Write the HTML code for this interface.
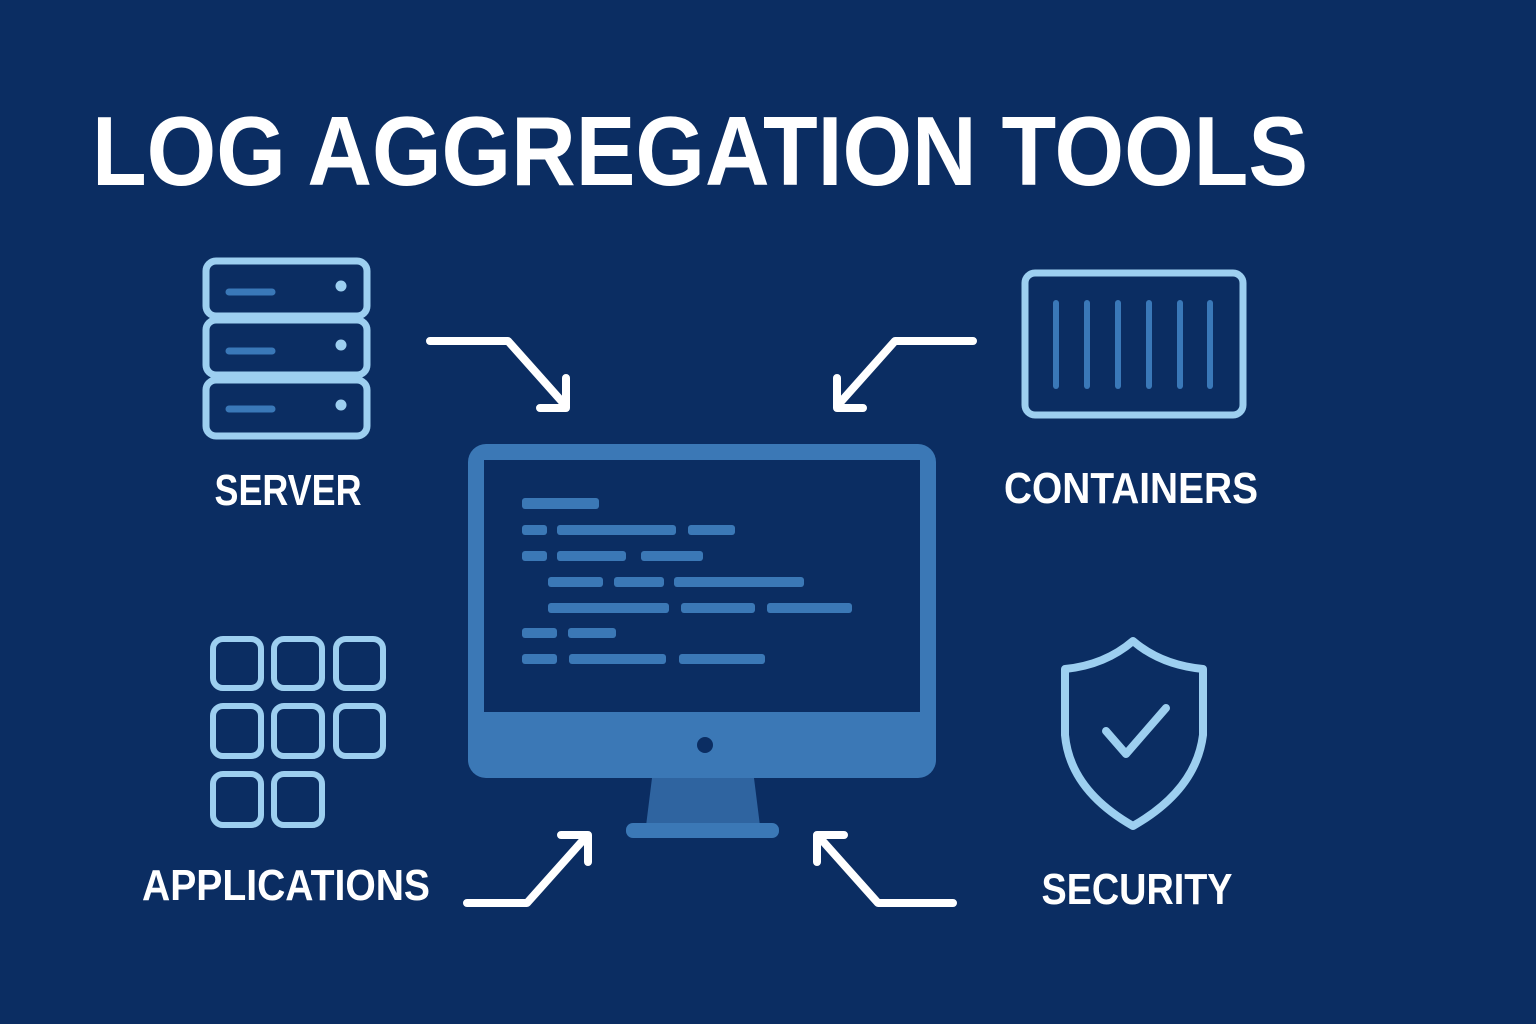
<!DOCTYPE html>
<html><head><meta charset="utf-8"><style>
html,body{margin:0;padding:0;background:#0b2d62;}
svg{display:block;}
text{font-family:"Liberation Sans",sans-serif;font-weight:bold;fill:#fff;}
</style></head><body>
<svg width="1536" height="1024" viewBox="0 0 1536 1024" xmlns="http://www.w3.org/2000/svg">
<rect width="1536" height="1024" fill="#0b2d62"/>
<text x="92" y="185" font-size="98" textLength="1216" lengthAdjust="spacingAndGlyphs">LOG AGGREGATION TOOLS</text>

<!-- server -->
<g fill="none" stroke="#9dcff0" stroke-width="7">
<rect x="206" y="261" width="161" height="55" rx="10"/>
<rect x="206" y="320" width="161" height="55" rx="10"/>
<rect x="206" y="380" width="161" height="56" rx="10"/>
</g>
<g stroke="#3a78b8" stroke-width="7" stroke-linecap="round">
<line x1="229" y1="292" x2="272" y2="292"/><line x1="229" y1="351" x2="272" y2="351"/><line x1="229" y1="409" x2="272" y2="409"/>
</g>
<g fill="#9dcff0"><circle cx="341" cy="286" r="5.5"/><circle cx="341" cy="345" r="5.5"/><circle cx="341" cy="405" r="5.5"/></g>
<text x="288" y="505" font-size="44" text-anchor="middle" textLength="147" lengthAdjust="spacingAndGlyphs">SERVER</text>

<!-- containers -->
<rect x="1025" y="273" width="218" height="142" rx="10" fill="none" stroke="#9dcff0" stroke-width="7"/>
<g stroke="#3a78b8" stroke-width="6" stroke-linecap="round">
<line x1="1056" y1="303" x2="1056" y2="386"/><line x1="1087" y1="303" x2="1087" y2="386"/><line x1="1118" y1="303" x2="1118" y2="386"/><line x1="1149" y1="303" x2="1149" y2="386"/><line x1="1180" y1="303" x2="1180" y2="386"/><line x1="1210" y1="303" x2="1210" y2="386"/>
</g>
<text x="1131" y="503" font-size="44" text-anchor="middle" textLength="254" lengthAdjust="spacingAndGlyphs">CONTAINERS</text>

<!-- apps -->
<g fill="none" stroke="#9dcff0" stroke-width="6">
<rect x="213" y="639" width="48" height="49" rx="10"/><rect x="274" y="639" width="48" height="49" rx="10"/><rect x="336" y="639" width="47" height="49" rx="10"/>
<rect x="213" y="706" width="48" height="50" rx="10"/><rect x="274" y="706" width="48" height="50" rx="10"/><rect x="336" y="706" width="47" height="50" rx="10"/>
<rect x="213" y="774" width="48" height="51" rx="10"/><rect x="274" y="774" width="48" height="51" rx="10"/>
</g>
<text x="286" y="900" font-size="44" text-anchor="middle" textLength="288" lengthAdjust="spacingAndGlyphs">APPLICATIONS</text>

<!-- shield -->
<path d="M1133 641 Q1105 665 1065 669 L1065 735 Q1070 790 1133 826 Q1196 790 1203 735 L1203 669 Q1161 665 1133 641 Z" fill="none" stroke="#9dcff0" stroke-width="8" stroke-linejoin="round"/>
<polyline points="1106,731 1126,754 1166,708" fill="none" stroke="#9dcff0" stroke-width="8" stroke-linecap="round" stroke-linejoin="round"/>
<text x="1137" y="904" font-size="44" text-anchor="middle" textLength="191" lengthAdjust="spacingAndGlyphs">SECURITY</text>

<!-- monitor -->
<rect x="468" y="444" width="468" height="334" rx="18" fill="#3b78b6"/>
<rect x="484" y="460" width="436" height="252" fill="#0b2d62"/>
<circle cx="705" cy="745" r="8" fill="#0b2d62"/>
<polygon points="652,778 754,778 760,826 646,826" fill="#2f64a0"/>
<rect x="626" y="823" width="153" height="15" rx="7" fill="#3b78b6"/>
<g fill="#3b78b6">
<rect x="522" y="498" width="77" height="11" rx="3"/>
<rect x="522" y="525" width="25" height="10" rx="3"/><rect x="557" y="525" width="119" height="10" rx="3"/><rect x="688" y="525" width="47" height="10" rx="3"/>
<rect x="522" y="551" width="25" height="10" rx="3"/><rect x="557" y="551" width="69" height="10" rx="3"/><rect x="641" y="551" width="62" height="10" rx="3"/>
<rect x="548" y="577" width="55" height="10" rx="3"/><rect x="614" y="577" width="50" height="10" rx="3"/><rect x="674" y="577" width="130" height="10" rx="3"/>
<rect x="548" y="603" width="121" height="10" rx="3"/><rect x="681" y="603" width="74" height="10" rx="3"/><rect x="767" y="603" width="85" height="10" rx="3"/>
<rect x="522" y="628" width="35" height="10" rx="3"/><rect x="568" y="628" width="48" height="10" rx="3"/>
<rect x="522" y="654" width="35" height="10" rx="3"/><rect x="569" y="654" width="97" height="10" rx="3"/><rect x="679" y="654" width="86" height="10" rx="3"/>
</g>

<!-- arrows -->
<g fill="none" stroke="#fff" stroke-width="8" stroke-linecap="round" stroke-linejoin="round">
<polyline points="430,341 508,341 565,405"/><polyline points="540,408 566,408 566,378"/>
<polyline points="973,341 895,341 838,405"/><polyline points="863,408 837,408 837,378"/>
<polyline points="467,903 527,903 585,838"/><polyline points="561,835 588,835 588,862"/>
<polyline points="953,903 878,903 820,838"/><polyline points="844,835 817,835 817,862"/>
</g>
</svg>
</body></html>
